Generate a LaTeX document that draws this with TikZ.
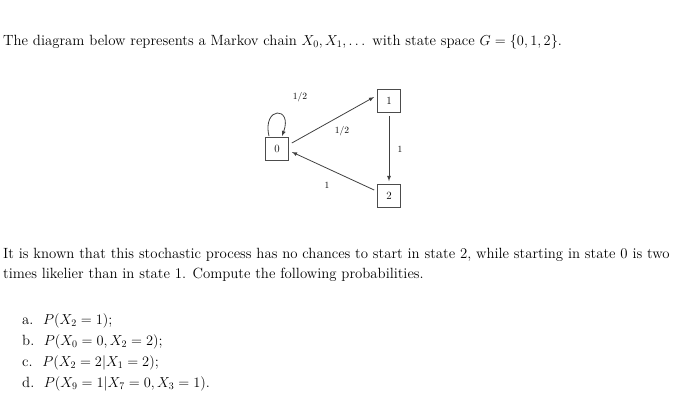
\documentclass[tikz,border=0pt]{standalone}
\usepackage{amsmath}
\usetikzlibrary{calc}
\begin{document}
\begin{tikzpicture}[x=1pt,y=-1pt,
  st/.style={draw=black!70,line width=0.7pt,minimum width=23pt,minimum height=23pt,inner sep=0pt,font=\fontsize{11}{13}\selectfont},
  ar/.style={-latex,draw=black!75,line width=0.8pt},
  lb/.style={font=\fontsize{9.5}{11}\selectfont},
  tx/.style={anchor=west,inner sep=0pt,font=\fontsize{14.8}{17}\selectfont}]
\useasboundingbox (0,0) rectangle (700,400);
\node[tx] (t1) at (3,42) {The diagram below represents a Markov chain $X_0,X_1,\dots$ with state space $G=\{0,1,2\}$.};
\node[st] (s0) at (277,149) {0};
\node[st] (s1) at (389,101) {1};
\node[st] (s2) at (389,196) {2};
\draw[ar] ($(s0.east)+(3,-6)$) -- ($(s1.west)+(-3,-4)$);
\draw[ar] ($(s2.west)+(-3,-6)$) -- ($(s0.east)+(3,3)$);
\draw[ar] ($(s1.south)+(0,3)$) -- ($(s2.north)+(0,-3)$);
\draw[ar] ($(s0.north)+(-8,-1)$) .. controls (262,106) and (293,106) .. ($(s0.north)+(5,-1)$);
\node[lb] (l1) at (300,97) {1/2};
\node[lb] (l2) at (342,131) {1/2};
\node[lb] (l3) at (400,149) {1};
\node[lb] (l4) at (327,185) {1};
\node[tx] (t2) at (3,255) {It is known that this stochastic process has no chances to start in state 2, while starting in state 0 is two};
\node[tx] (t3) at (3,275) {times likelier than in state 1. Compute the following probabilities.};
\node[tx] (a) at (22,321) {a.\ \ $P(X_2=1)$;};
\node[tx] (b) at (22,342) {b.\ \ $P(X_0=0,X_2=2)$;};
\node[tx] (c) at (22,363) {c.\ \ $P(X_2=2|X_1=2)$;};
\node[tx] (d) at (22,384) {d.\ \ $P(X_9=1|X_7=0,X_3=1)$.};
\end{tikzpicture}
\end{document}
